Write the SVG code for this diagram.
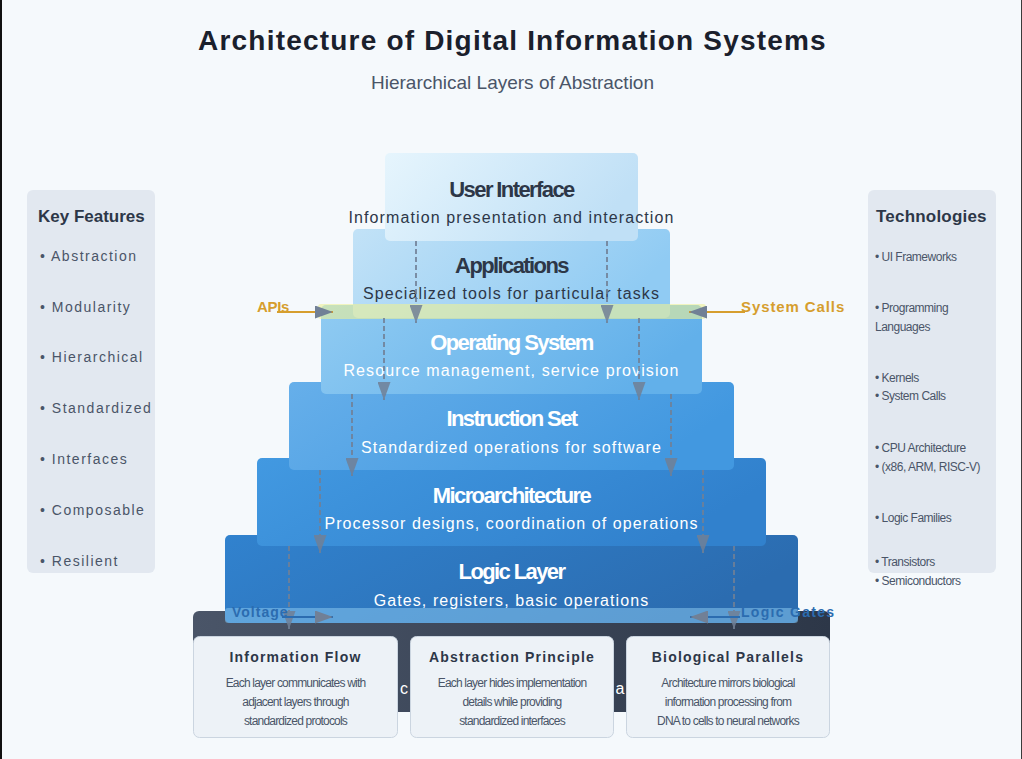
<svg xmlns="http://www.w3.org/2000/svg" width="1022" height="759" viewBox="0 0 1022 759">
<defs>
<style>
text{font-family:"Liberation Sans",Arial,sans-serif;}
.ttl{font-size:28px;font-weight:bold;fill:#1a202c;letter-spacing:1.2px;text-anchor:middle;}
.sub{font-size:19px;fill:#4a5568;text-anchor:middle;}
.lt{font-size:22px;font-weight:bold;letter-spacing:-1.6px;text-anchor:middle;}
.ls{font-size:16px;letter-spacing:1.1px;text-anchor:middle;}
.dark{fill:#2d3748;}
.light{fill:#ffffff;}
.panel{fill:#e2e8f0;}
.ph{font-size:17px;font-weight:bold;fill:#2d3748;}
.fi{font-size:14px;letter-spacing:1.5px;fill:#4a5568;}
.ti{font-size:12px;letter-spacing:-0.5px;fill:#4a5568;}
.card{fill:#edf2f7;stroke:#cbd5e0;stroke-width:1;}
.ch{font-size:14px;font-weight:bold;letter-spacing:1.2px;fill:#2d3748;text-anchor:middle;}
.cb{font-size:12px;letter-spacing:-0.8px;fill:#4a5568;text-anchor:middle;}
.dash{stroke:#718096;stroke-width:2;stroke-dasharray:5 3;fill:none;marker-end:url(#arr);}
.orange{stroke:#d69e2e;stroke-width:2;fill:none;marker-end:url(#arr);}
.blue{stroke:#2b6cb0;stroke-width:2;fill:none;marker-end:url(#arr);}
.ol{font-size:15px;font-weight:bold;fill:#d69e2e;}
.bl{font-size:14px;font-weight:bold;fill:#2b6cb0;letter-spacing:1.2px;}
</style>
<marker id="arr" viewBox="0 0 18 13" markerWidth="18" markerHeight="13" markerUnits="userSpaceOnUse" refX="18" refY="6.5" orient="auto">
<path d="M0,0 L18,6.5 L0,13 z" fill="#718096"/>
</marker>
<linearGradient id="gUI" x1="0" y1="0" x2="1" y2="0.3"><stop offset="0" stop-color="#e6f5fd"/><stop offset="1" stop-color="#c0e0f6"/></linearGradient>
<linearGradient id="gAP" x1="0" y1="0" x2="1" y2="0.3"><stop offset="0" stop-color="#c2e2f7"/><stop offset="1" stop-color="#90cbf3"/></linearGradient>
<linearGradient id="gOS" x1="0" y1="0" x2="1" y2="0.3"><stop offset="0" stop-color="#90cbf2"/><stop offset="1" stop-color="#62b0ea"/></linearGradient>
<linearGradient id="gIS" x1="0" y1="0" x2="1" y2="0.3"><stop offset="0" stop-color="#66afea"/><stop offset="1" stop-color="#4298e0"/></linearGradient>
<linearGradient id="gMA" x1="0" y1="0" x2="1" y2="0.3"><stop offset="0" stop-color="#4299e1"/><stop offset="1" stop-color="#3181cd"/></linearGradient>
<linearGradient id="gLL" x1="0" y1="0" x2="1" y2="0.3"><stop offset="0" stop-color="#3182ce"/><stop offset="1" stop-color="#2b6cb0"/></linearGradient>
<linearGradient id="gBase" x1="0" y1="0" x2="1" y2="0"><stop offset="0" stop-color="#4a5568"/><stop offset="1" stop-color="#2d3748"/></linearGradient>
</defs>

<rect x="0" y="0" width="1022" height="759" fill="#f5f9fc"/>
<rect x="0" y="0" width="2" height="759" fill="#111111"/>
<rect x="1021" y="0" width="1" height="759" fill="#3a3a3a"/>

<g id="title">
<text class="ttl" x="512.5" y="50">Architecture of Digital Information Systems</text>
<text class="sub" x="512.5" y="89">Hierarchical Layers of Abstraction</text>
</g>

<g id="panel-features">
<rect class="panel" x="27" y="190" width="128" height="383" rx="6"/>
<text class="ph" x="38" y="222">Key Features</text>
<text class="fi" x="40" y="261">• Abstraction</text>
<text class="fi" x="40" y="312">• Modularity</text>
<text class="fi" x="40" y="362">• Hierarchical</text>
<text class="fi" x="40" y="413">• Standardized</text>
<text class="fi" x="40" y="464">• Interfaces</text>
<text class="fi" x="40" y="515">• Composable</text>
<text class="fi" x="40" y="566">• Resilient</text>
</g>

<g id="panel-technologies">
<rect class="panel" x="868" y="190" width="128" height="383" rx="6"/>
<text class="ph" x="876" y="222" style="letter-spacing:0.2px">Technologies</text>
<text class="ti" x="875" y="261">• UI Frameworks</text>
<text class="ti" x="875" y="312">• Programming</text>
<text class="ti" x="875" y="331">Languages</text>
<text class="ti" x="875" y="382">• Kernels</text>
<text class="ti" x="875" y="400">• System Calls</text>
<text class="ti" x="875" y="452">• CPU Architecture</text>
<text class="ti" x="875" y="471">• (x86, ARM, RISC-V)</text>
<text class="ti" x="875" y="522">• Logic Families</text>
<text class="ti" x="875" y="566">• Transistors</text>
<text class="ti" x="875" y="585">• Semiconductors</text>
</g>

<g id="base">
<rect x="193" y="611" width="637" height="101" rx="6" fill="url(#gBase)"/>
<text x="404" y="694" font-size="16" fill="#ffffff" text-anchor="middle">c</text>
<text x="620" y="694" font-size="16" fill="#ffffff" text-anchor="middle">a</text>
</g>

<g id="layer-logic">
<rect x="225" y="535" width="573" height="88" rx="5" fill="url(#gLL)"/>
<rect x="225" y="608" width="573" height="15" rx="3" fill="#90cdf4" opacity="0.5"/>
<text class="lt light" x="511.5" y="579">Logic Layer</text>
<text class="ls light" x="511.5" y="605.5">Gates, registers, basic operations</text>
</g>

<g id="layer-microarchitecture">
<rect x="257" y="458" width="509" height="88" rx="5" fill="url(#gMA)"/>
<text class="lt light" x="511.5" y="503">Microarchitecture</text>
<text class="ls light" x="511.5" y="528.5">Processor designs, coordination of operations</text>
</g>

<g id="layer-instruction-set">
<rect x="289" y="382" width="445" height="88" rx="5" fill="url(#gIS)"/>
<text class="lt light" x="511.5" y="426">Instruction Set</text>
<text class="ls light" x="511.5" y="452.5">Standardized operations for software</text>
</g>

<g id="layer-os">
<rect x="321" y="305" width="381" height="89" rx="5" fill="url(#gOS)"/>
<text class="lt light" x="511.5" y="350">Operating System</text>
<text class="ls light" x="511.5" y="375.5">Resource management, service provision</text>
</g>

<g id="layer-applications">
<rect x="353" y="229" width="317" height="89" rx="5" fill="url(#gAP)"/>
<text class="lt dark" x="511.5" y="273">Applications</text>
<text class="ls dark" x="511.5" y="298.5">Specialized tools for particular tasks</text>
</g>

<g id="interface-band">
<rect x="318" y="304" width="388" height="15" rx="3" fill="#ecf096" opacity="0.6"/>
</g>

<g id="layer-ui">
<rect x="385" y="153" width="253" height="88" rx="5" fill="url(#gUI)"/>
<text class="lt dark" x="511.5" y="197">User Interface</text>
<text class="ls dark" x="511.5" y="222.5">Information presentation and interaction</text>
</g>

<g id="card-information-flow">
<rect class="card" x="193.5" y="636.5" width="204" height="101" rx="6"/>
<text class="ch" x="295.5" y="662">Information Flow</text>
<text class="cb" x="295.5" y="687">Each layer communicates with</text>
<text class="cb" x="295.5" y="706">adjacent layers through</text>
<text class="cb" x="295.5" y="725">standardized protocols</text>
</g>

<g id="card-abstraction-principle">
<rect class="card" x="410.5" y="636.5" width="203" height="101" rx="6"/>
<text class="ch" x="512" y="662">Abstraction Principle</text>
<text class="cb" x="512" y="687">Each layer hides implementation</text>
<text class="cb" x="512" y="706">details while providing</text>
<text class="cb" x="512" y="725">standardized interfaces</text>
</g>

<g id="card-biological-parallels">
<rect class="card" x="626.5" y="636.5" width="203" height="101" rx="6"/>
<text class="ch" x="728" y="662">Biological Parallels</text>
<text class="cb" x="728" y="687">Architecture mirrors biological</text>
<text class="cb" x="728" y="706">information processing from</text>
<text class="cb" x="728" y="725">DNA to cells to neural networks</text>
</g>

<g id="connectors">
<g opacity="0.85">
<line class="dash" x1="416" y1="241" x2="416" y2="323"/>
<line class="dash" x1="607" y1="241" x2="607" y2="323"/>
<line class="dash" x1="384" y1="318" x2="384" y2="400"/>
<line class="dash" x1="639" y1="318" x2="639" y2="400"/>
<line class="dash" x1="352" y1="394" x2="352" y2="476"/>
<line class="dash" x1="671" y1="394" x2="671" y2="476"/>
<line class="dash" x1="320" y1="470" x2="320" y2="553"/>
<line class="dash" x1="703" y1="470" x2="703" y2="553"/>
<line class="dash" x1="289" y1="546" x2="289" y2="629"/>
<line class="dash" x1="734" y1="546" x2="734" y2="629"/>
</g>
<line class="orange" x1="277" y1="312" x2="333" y2="312"/>
<text class="ol" x="257" y="312" style="letter-spacing:-0.3px">APIs</text>
<line class="orange" x1="745" y1="312" x2="689" y2="312"/>
<text class="ol" x="741" y="312" style="letter-spacing:0.9px">System Calls</text>
<line class="blue" x1="282" y1="617" x2="333" y2="617"/>
<text class="bl" x="232" y="617" style="letter-spacing:1px">Voltage</text>
<line class="blue" x1="740" y1="617" x2="690" y2="617"/>
<text class="bl" x="741" y="617" style="letter-spacing:1.3px">Logic Gates</text>
</g>
</svg>
